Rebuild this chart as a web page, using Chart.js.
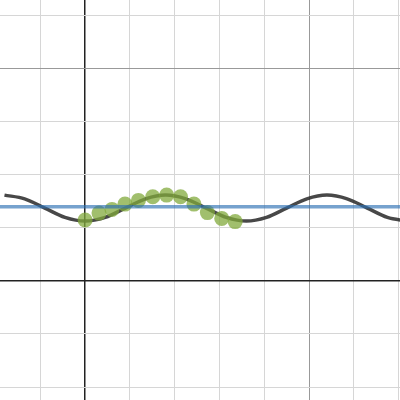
<!DOCTYPE html>
<html>
<head>
<meta charset="utf-8">
<script src="https://cdn.jsdelivr.net/npm/chart.js@4"></script>
<style>
  body { margin: 0; background: #fff; }
  #wrap { width: 400px; height: 400px; }
</style>
</head>
<body>
<div id="wrap"><canvas id="graph"></canvas></div>
<script>
const curveX = [-1.8, -1.35, -0.9, -0.45, 0, 0.45, 0.9, 1.35, 1.8, 2.25, 2.7, 3.15, 3.6, 4.05, 4.5, 4.95, 5.4, 5.85, 6.3, 6.75, 7.2];
const curveY = [1.62, 1.55, 1.375, 1.2, 1.13, 1.2, 1.375, 1.55, 1.62, 1.55, 1.375, 1.2, 1.13, 1.2, 1.375, 1.55, 1.62, 1.55, 1.375, 1.2, 1.13];
const lineX = [-2, 7.2];
const lineY = [1.4, 1.4];
const pointX = [0, 0.31, 0.6, 0.89, 1.19, 1.51, 1.82, 2.13, 2.43, 2.73, 3.05, 3.35];
const pointY = [1.15, 1.28, 1.35, 1.45, 1.52, 1.59, 1.62, 1.59, 1.45, 1.29, 1.18, 1.12];
const xTicks = [-1, 0, 1, 2, 3, 4, 5, 6, 7];
const yTicks = [-2, -1, 0, 1, 2, 3, 4, 5];

const pts = (xs, ys) => xs.map((x, i) => ({ x, y: ys[i] }));

function gridColor(ctx) {
  const v = ctx.tick && ctx.tick.value;
  if (v === 0) return "#222";
  if (ctx.scale.axis === "x" && v === 5) return "#999";
  if (ctx.scale.axis === "y" && v === 4) return "#999";
  return "#d6d6d6";
}

new Chart(document.getElementById("graph"), {
  type: "scatter",
  data: {
    datasets: [
      {
        data: pts(lineX, lineY),
        showLine: true,
        borderColor: "rgba(45,112,179,0.65)",
        borderWidth: 3.5,
        pointRadius: 0
      },
      {
        data: pts(pointX, pointY),
        backgroundColor: "rgba(130,170,60,0.75)",
        borderWidth: 0,
        pointRadius: 7.5
      },
      {
        data: pts(curveX, curveY),
        showLine: true,
        cubicInterpolationMode: "monotone",
        borderColor: "rgba(40,40,40,0.85)",
        borderWidth: 3.5,
        pointRadius: 0
      }
    ]
  },
  options: {
    responsive: true,
    maintainAspectRatio: false,
    animation: false,
    layout: { padding: 0, autoPadding: false },
    plugins: { legend: { display: false }, tooltip: { enabled: false } },
    scales: {
      x: {
        type: "linear", min: -1.9, max: 7.03,
        afterBuildTicks: s => { s.ticks = xTicks.map(v => ({ value: v })); },
        ticks: { display: false, padding: 0 },
        border: { display: false },
        grid: { color: gridColor, lineWidth: c => (c.tick && c.tick.value === 0 ? 1.5 : 1), drawTicks: false, tickLength: 0 }
      },
      y: {
        type: "linear", min: -2.245, max: 5.3,
        afterBuildTicks: s => { s.ticks = yTicks.map(v => ({ value: v })); },
        ticks: { display: false, padding: 0 },
        border: { display: false },
        grid: { color: gridColor, lineWidth: c => (c.tick && c.tick.value === 0 ? 1.5 : 1), drawTicks: false, tickLength: 0 }
      }
    }
  }
});
</script>
</body>
</html>
